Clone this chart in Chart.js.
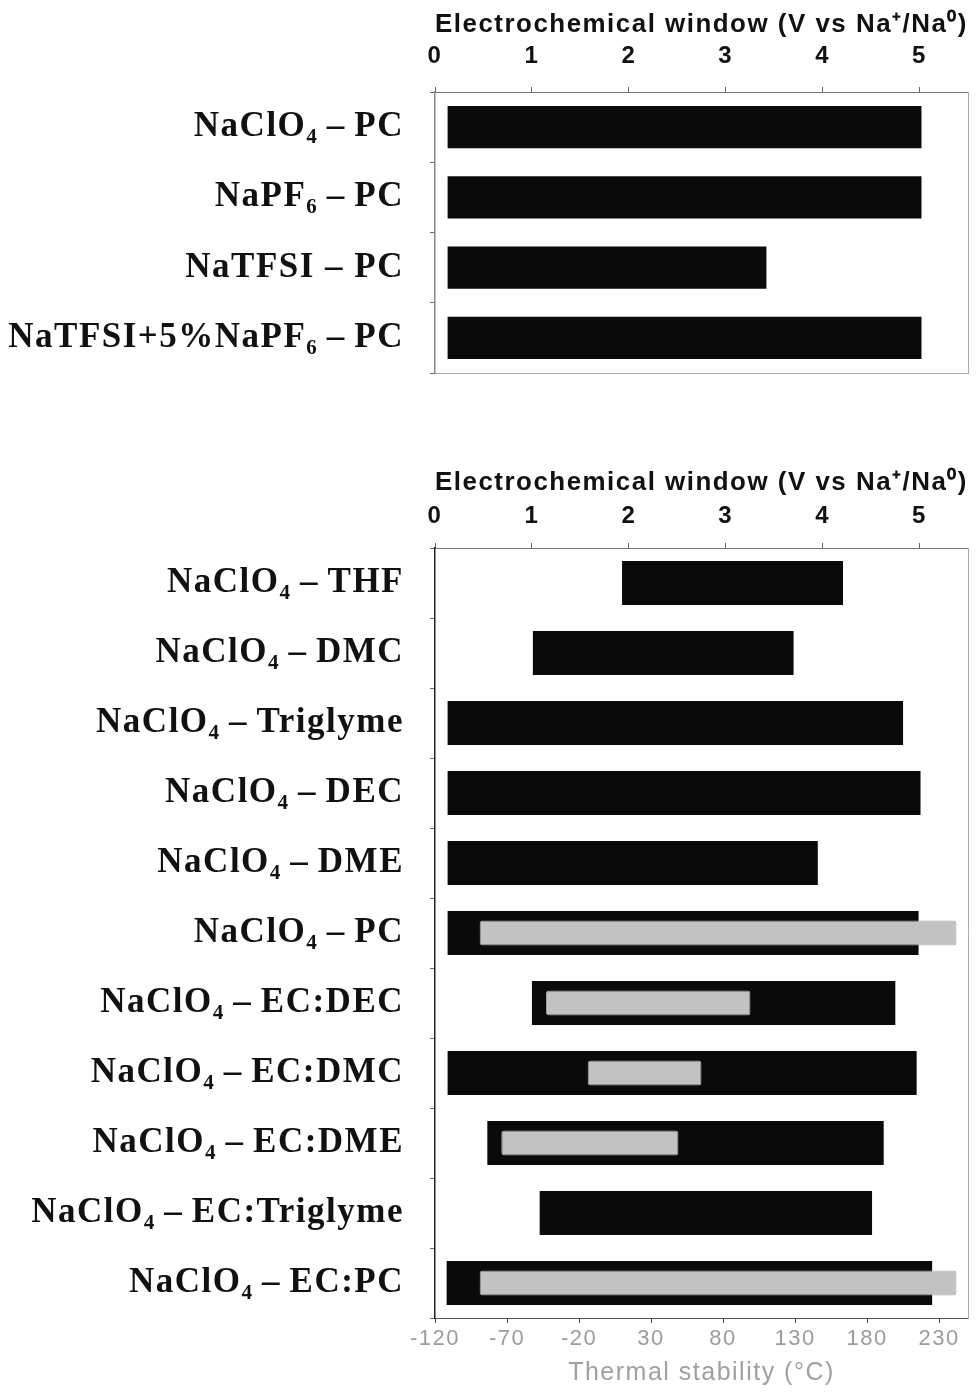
<!DOCTYPE html>
<html>
<head>
<meta charset="utf-8">
<script src="https://cdn.jsdelivr.net/npm/chart.js@4.4.0/dist/chart.umd.min.js"></script>
<style>
  body { margin: 0; background: #fff; }
  .panel { position: absolute; left: 0; width: 980px; }
</style>
</head>
<body>
<div class="panel" style="top:0;height:420px"><canvas id="topChart"></canvas></div>
<div class="panel" style="top:440px;height:958px"><canvas id="bottomChart"></canvas></div>
<script>
// electrolytes in the upper panel (PC with different salts)
const topLabels = ['NaClO\u2084\u2009\u2013\u2009PC', 'NaPF\u2086\u2009\u2013\u2009PC', 'NaTFSI \u2013 PC', 'NaTFSI+5%NaPF\u2086\u2009\u2013\u2009PC'];
const topWindow = [[0.13, 5.02], [0.13, 5.02], [0.13, 3.42], [0.13, 5.02]];

// electrolytes in the lower panel (NaClO4 in different solvents)
const bottomLabels = [
  'NaClO\u2084\u2009\u2013\u2009THF', 'NaClO\u2084\u2009\u2013\u2009DMC', 'NaClO\u2084\u2009\u2013\u2009Triglyme',
  'NaClO\u2084\u2009\u2013\u2009DEC', 'NaClO\u2084\u2009\u2013\u2009DME', 'NaClO\u2084\u2009\u2013\u2009PC',
  'NaClO\u2084\u2009\u2013\u2009EC:DEC', 'NaClO\u2084\u2009\u2013\u2009EC:DMC', 'NaClO\u2084\u2009\u2013\u2009EC:DME',
  'NaClO\u2084\u2009\u2013\u2009EC:Triglyme', 'NaClO\u2084\u2009\u2013\u2009EC:PC'
];
// electrochemical window, V vs Na+/Na0
const bottomWindow = [
  [1.93, 4.21], [1.01, 3.70], [0.13, 4.83], [0.13, 5.01], [0.13, 3.95], [0.13, 4.99],
  [1.00, 4.75], [0.13, 4.97], [0.54, 4.63], [1.08, 4.51], [0.12, 5.13]
];
// thermal stability, degC (only where measured)
const bottomThermal = [
  null, null, null, null, null, [-89, 242],
  [-43, 99], [-14, 65], [-74, 49], null, [-89, 242]
];

const voltTicks = [0, 1, 2, 3, 4, 5];
const thermalTicks = [-120, -70, -20, 30, 80, 130, 180, 230];

Chart.defaults.font.family = 'Liberation Sans';
Chart.defaults.color = '#111';

const spacing = {
  id: 'spacing',
  beforeDraw(chart) { chart.ctx.letterSpacing = '1.5px'; }
};

const labelFont = { family: 'Liberation Serif', size: 35, weight: 'bold' };
const titleText = 'Electrochemical window (V vs Na\u207A/Na\u2070)';

function fixTicks(list) {
  return function (scale) { scale.ticks = list.map(v => ({ value: v })); };
}

function categoryAxis(width, borderColor, dash) {
  return {
    type: 'category',
    position: 'left',
    afterFit: s => { s.width = width; },
    ticks: { font: labelFont, color: '#111', padding: 26 },
    grid: { drawOnChartArea: false, tickLength: 5, color: '#666' },
    border: { color: borderColor, dash: dash, width: 1.5 }
  };
}

function sideAxis(pos, size) {
  const a = {
    type: 'linear',
    position: pos,
    ticks: { display: false },
    grid: { display: false },
    border: { color: '#aaa', dash: [2, 3] }
  };
  if (pos === 'right') a.afterFit = s => { s.width = size; };
  else a.afterFit = s => { s.height = size; };
  return a;
}

// upper panel
new Chart(document.getElementById('topChart'), {
  type: 'bar',
  data: {
    labels: topLabels,
    datasets: [{
      data: topWindow,
      backgroundColor: '#0a0a0a',
      barPercentage: 0.6,
      categoryPercentage: 1,
      xAxisID: 'x',
      yAxisID: 'y'
    }]
  },
  options: {
    indexAxis: 'y',
    responsive: true,
    maintainAspectRatio: false,
    animation: false,
    layout: { padding: 0 },
    plugins: { legend: { display: false }, tooltip: { enabled: false } },
    scales: {
      x: {
        type: 'linear',
        position: 'top',
        min: 0,
        max: 5.5,
        afterBuildTicks: fixTicks(voltTicks),
        afterFit: s => { s.height = 92; },
        ticks: { font: { size: 24, weight: 'bold' }, color: '#111', padding: 16 },
        grid: { drawOnChartArea: false, tickLength: 5, color: '#666' },
        border: { color: '#777', dash: [2, 3] },
        title: { display: true, text: titleText, font: { size: 26, weight: 'bold' }, color: '#111', padding: { top: 9, bottom: 0 } }
      },
      xb: sideAxis('bottom', 29),
      y: categoryAxis(435, '#888', [2, 3]),
      yr: sideAxis('right', 12)
    }
  },
  plugins: [spacing]
});

// lower panel
new Chart(document.getElementById('bottomChart'), {
  type: 'bar',
  data: {
    labels: bottomLabels,
    datasets: [{
      label: 'Thermal stability',
      data: bottomThermal,
      backgroundColor: '#c2c2c2',
      borderColor: '#aaaaaa',
      borderWidth: 1,
      borderSkipped: false,
      borderRadius: 3,
      barPercentage: 0.36,
      categoryPercentage: 1,
      grouped: false,
      order: 0,
      xAxisID: 'xt',
      yAxisID: 'y'
    }, {
      label: 'Electrochemical window',
      data: bottomWindow,
      backgroundColor: '#0a0a0a',
      barPercentage: 0.63,
      categoryPercentage: 1,
      grouped: false,
      order: 1,
      xAxisID: 'xv',
      yAxisID: 'y'
    }]
  },
  options: {
    indexAxis: 'y',
    responsive: true,
    maintainAspectRatio: false,
    animation: false,
    layout: { padding: 0 },
    plugins: { legend: { display: false }, tooltip: { enabled: false } },
    scales: {
      xv: {
        type: 'linear',
        position: 'top',
        min: 0,
        max: 5.5,
        afterBuildTicks: fixTicks(voltTicks),
        afterFit: s => { s.height = 108; },
        ticks: { font: { size: 24, weight: 'bold' }, color: '#111', padding: 12 },
        grid: { drawOnChartArea: false, tickLength: 5, color: '#666' },
        border: { color: '#777', dash: [2, 3] },
        title: { display: true, text: titleText, font: { size: 26, weight: 'bold' }, color: '#111', padding: { top: 27, bottom: 0 } }
      },
      xt: {
        type: 'linear',
        position: 'bottom',
        min: -120,
        max: 250,
        afterBuildTicks: fixTicks(thermalTicks),
        afterFit: s => { s.height = 80; },
        ticks: { font: { size: 22 }, color: '#9c9c9c', padding: 3 },
        grid: { drawOnChartArea: false, tickLength: 5, color: '#444' },
        border: { color: '#555', dash: [2, 3] },
        title: { display: true, text: 'Thermal stability (\u00B0C)', font: { size: 25 }, color: '#a0a0a0', padding: { top: 0, bottom: 10 } }
      },
      y: categoryAxis(435, '#222', [7, 3]),
      yr: sideAxis('right', 12)
    }
  },
  plugins: [spacing]
});
</script>
</body>
</html>
